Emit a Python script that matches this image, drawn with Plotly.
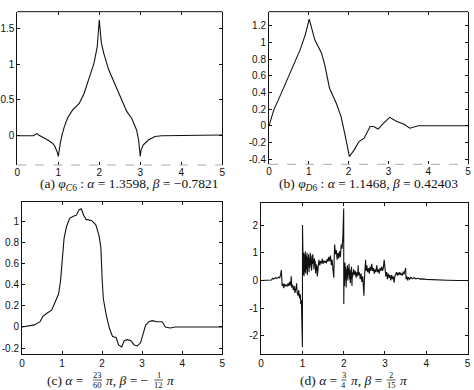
import plotly.graph_objects as go

# ---------------- data ----------------
x_ticks = [0, 1, 2, 3, 4, 5]
x_ticktext = ["0", "1", "2", "3", "4", "5"]

# (a) phi_C6
a_x = [0, 0.2, 0.39, 0.45, 0.48, 0.52, 0.6, 0.71, 0.8, 0.87, 0.92, 0.95, 0.98, 1.0,
       1.02, 1.05, 1.1, 1.15, 1.23, 1.35, 1.51, 1.63, 1.75, 1.87, 1.95, 2.0,
       2.05, 2.11, 2.23, 2.35, 2.47, 2.67, 2.79, 2.91, 2.96, 3.0,
       3.02, 3.07, 3.2, 3.36, 3.52, 3.7, 4.0, 4.5, 5.0]
a_y = [0, 0, 0.0, 0.02, 0.03, 0.01, -0.02, -0.05, -0.08, -0.11, -0.15, -0.19, -0.24, -0.29,
       -0.2, -0.1, 0.03, 0.13, 0.25, 0.36, 0.45, 0.59, 0.8, 1.01, 1.24, 1.62,
       1.3, 1.15, 0.92, 0.76, 0.59, 0.34, 0.245, 0.08, -0.06, -0.29,
       -0.2, -0.13, -0.06, -0.01, 0.0, 0.0, 0.01, 0.01, 0.01]

# (b) phi_D6
b_x = [0, 0.12, 0.29, 0.45, 0.62, 0.78, 0.91, 1.01, 1.15, 1.32, 1.4, 1.52, 1.69, 1.81,
       1.9, 2.02, 2.14, 2.26, 2.39, 2.54, 2.63, 2.74, 2.88, 3.03, 3.21, 3.38, 3.54,
       3.75, 4.0, 5.0]
b_y = [0, 0.19, 0.37, 0.55, 0.75, 0.91, 1.09, 1.28, 1.03, 0.87, 0.73, 0.45, 0.27, 0.11,
       -0.09, -0.37, -0.29, -0.19, -0.15, -0.01, -0.01, -0.04, 0.03, 0.10, 0.05, 0.02, -0.03,
       0.0, 0.0, 0.0]

# (c)
c_x = [0, 0.14, 0.31, 0.45, 0.52, 0.62, 0.74, 0.82, 0.91, 0.96, 1.01, 1.05, 1.11, 1.19,
       1.28, 1.36, 1.42, 1.48, 1.54, 1.6, 1.73, 1.84, 1.92, 1.97, 2.0, 2.03, 2.1, 2.18,
       2.26, 2.35, 2.41, 2.49, 2.55, 2.63, 2.72, 2.8, 2.88, 2.96, 3.02, 3.09, 3.17, 3.25,
       3.37, 3.5, 3.58, 3.7, 3.83, 4.0, 5.0]
c_y = [0, 0.006, 0.02, 0.05, 0.1, 0.13, 0.16, 0.23, 0.31, 0.43, 0.68, 0.84, 0.95, 1.03,
       1.05, 1.06, 1.11, 1.12, 1.06, 1.02, 1.01, 0.97, 0.87, 0.75, 0.46, 0.27, 0.12, -0.01,
       -0.09, -0.10, -0.17, -0.19, -0.13, -0.12, -0.13, -0.17, -0.18, -0.15, -0.07, 0.02, 0.05, 0.06,
       0.05, 0.05, 0.0, -0.01, 0.0, 0.0, 0.0]

# (d)
d_x = [0, 0.1, 0.2, 0.25, 0.28, 0.3, 0.35, 0.38, 0.42, 0.45, 0.47, 0.49, 0.5,
       0.51, 0.53, 0.55, 0.57, 0.59, 0.61, 0.63, 0.65, 0.67, 0.69, 0.71, 0.73, 0.74, 0.76,
       0.78, 0.8, 0.82, 0.84, 0.86, 0.87, 0.89, 0.91, 0.93, 0.95, 0.96, 0.975, 0.985, 0.995, 1.0,
       1.002, 1.01, 1.015, 1.02, 1.03, 1.04, 1.05, 1.06, 1.07, 1.08, 1.09, 1.10, 1.11, 1.12,
       1.13, 1.14, 1.15, 1.16, 1.17, 1.18, 1.19, 1.2, 1.21, 1.22, 1.23, 1.24, 1.25, 1.26,
       1.27, 1.28, 1.29, 1.3, 1.31, 1.32, 1.33, 1.34, 1.35, 1.36,
       1.38, 1.4, 1.42, 1.44, 1.46, 1.48, 1.5, 1.52, 1.54, 1.56, 1.58, 1.6, 1.62, 1.64,
       1.66, 1.68, 1.7, 1.72, 1.74, 1.76, 1.77, 1.78, 1.8, 1.82, 1.84, 1.86, 1.88, 1.9,
       1.92, 1.94, 1.96, 1.98, 2.0,
       2.002, 2.01, 2.02, 2.03, 2.04, 2.05, 2.06, 2.07, 2.08, 2.09, 2.1, 2.11, 2.12, 2.13,
       2.14, 2.15, 2.16, 2.17, 2.18, 2.19, 2.2, 2.21, 2.22, 2.24, 2.26, 2.28, 2.3, 2.32,
       2.34, 2.35, 2.36, 2.38, 2.4, 2.42, 2.44, 2.46, 2.48, 2.49, 2.5,
       2.51, 2.52, 2.53, 2.54, 2.56, 2.58, 2.6, 2.62, 2.64, 2.66, 2.68, 2.7, 2.72, 2.74,
       2.76, 2.78, 2.8, 2.82, 2.84, 2.86, 2.88, 2.9, 2.92, 2.94, 2.96, 2.98, 3.0,
       3.02, 3.04, 3.06, 3.08, 3.1, 3.12, 3.14, 3.16, 3.18, 3.2, 3.22, 3.24, 3.26, 3.28,
       3.3, 3.32, 3.34, 3.36, 3.38, 3.4, 3.42, 3.44, 3.46, 3.48, 3.5,
       3.51, 3.53, 3.55, 3.57, 3.6, 3.63, 3.66, 3.7, 3.75, 3.8, 3.85, 3.9, 4.0, 4.2, 4.5,
       4.8, 5.0]
d_y = [0, 0, 0.01, 0.02, 0.08, 0.05, 0.1, 0.07, 0.12, 0.1, 0.2, 0.38, 0.05,
       -0.2, -0.1, -0.28, -0.12, -0.2, -0.15, -0.22, -0.1, -0.2, -0.05, -0.18, 0.15, -0.25, -0.15,
       -0.35, -0.2, -0.45, -0.3, -0.1, -0.4, -0.55, -0.35, -0.65, -0.5, -0.85, -0.7, -1.2, -1.6, -2.4,
       2.0, 0.3, 1.1, 0.2, 1.0, 0.15, 0.95, 0.3, 1.05, 0.25, 0.9, 0.4, 1.0, 0.2,
       0.85, 0.5, 0.95, 0.3, 0.8, 0.45, 1.0, 0.55, 0.9, 0.35, 0.85, 0.5, 0.95, 0.6,
       0.75, 0.4, 0.8, 0.55, 0.7, 0.25, 0.6, 0.35, 0.55, 0.15,
       0.6, 0.75, 0.55, 0.7, 0.62, 0.78, 0.6, 0.72, 0.65, 0.7, 0.62, 0.78, 0.68, 0.85,
       0.7, 0.9, 0.55, 0.75, 0.4, 0.1, 0.8, 1.3, 0.95, 1.1, 0.75, 1.0, 0.8, 1.05,
       0.85, 1.3, 1.15, 1.6, 2.6,
       -0.85, 0.6, -0.2, 0.65, 0.0, 0.5, -0.25, 0.4, 0.1, 0.55, 0.0, 0.45, 0.2, 0.6,
       0.05, 0.4, -0.1, 0.35, 0.15, 0.5, -0.2, 0.3, 0.15, 0.4, 0.2, 0.35, 0.1, 0.3,
       0.15, 0.55, 0.2, 0.3, 0.05, 0.25, -0.05, 0.15, -0.2, -0.55, 0.0,
       0.5, 0.3, 0.75, 0.35, 0.55, 0.3, 0.45, 0.25, 0.5, 0.35, 0.6, 0.35, 0.45, 0.25,
       0.4, 0.3, 0.55, 0.3, 0.4, 0.25, 0.45, 0.35, 0.5, 0.35, 0.45, 0.75, 0.3,
       0.15, 0.3, 0.05, 0.25, 0.1, 0.2, 0.0, 0.2, 0.05, 0.15, -0.08, 0.15, 0.2, 0.3,
       0.18, 0.28, 0.2, 0.3, 0.2, 0.25, 0.18, 0.32, 0.22, 0.3, 0.45,
       0.05, 0.15, 0.0, 0.12, 0.05, 0.12, 0.06, 0.1, 0.06, 0.08, 0.05, 0.06, 0.04, 0.02, 0.01,
       0.0, 0.0]

a_yticks = [0, 0.5, 1, 1.5]
a_yticktext = ["0", "0.5", "1", "1.5"]
b_yticks = [-0.4, -0.2, 0, 0.2, 0.4, 0.6, 0.8, 1, 1.2]
b_yticktext = ["-0.4", "-0.2", "0", "0.2", "0.4", "0.6", "0.8", "1", "1.2"]
c_yticks = [-0.2, 0, 0.2, 0.4, 0.6, 0.8, 1]
c_yticktext = ["-0.2", "0", "0.2", "0.4", "0.6", "0.8", "1"]
d_yticks = [-2, -1, 0, 1, 2]
d_yticktext = ["-2", "-1", "0", "1", "2"]

# ---------------- layout ----------------
W, H = 474, 390
def fx(p): return p / W
def fy(p): return 1 - p / H

panels = [
    dict(x=a_x, y=a_y, xd=(13.5, 221.5), yd=(11.7, 165.0), yr=(-0.409, 1.732),
         yt=a_yticks, ytt=a_yticktext, dashed_bottom=True),
    dict(x=b_x, y=b_y, xd=(269.0, 471.0), yd=(11.7, 164.3), yr=(-0.463, 1.368),
         yt=b_yticks, ytt=b_yticktext, dashed_bottom=True),
    dict(x=c_x, y=c_y, xd=(18.3, 221.5), yd=(202.3, 354.3), yr=(-0.259, 1.182),
         yt=c_yticks, ytt=c_yticktext, dashed_bottom=False),
    dict(x=d_x, y=d_y, xd=(261.0, 470.5), yd=(203.3, 354.3), yr=(-2.664, 2.787),
         yt=d_yticks, ytt=d_yticktext, dashed_bottom=False),
]

fig = go.Figure()
tickfont = dict(family="Liberation Sans, Arial, sans-serif", size=10, color="#111")
shapes = []
for i, p in enumerate(panels, start=1):
    sx = "" if i == 1 else str(i)
    fig.add_trace(go.Scatter(x=p["x"], y=p["y"], mode="lines",
                             line=dict(color="#111", width=1.1),
                             xaxis="x" + sx, yaxis="y" + sx, showlegend=False,
                             hoverinfo="skip"))
    xa = dict(domain=[fx(p["xd"][0]), fx(p["xd"][1])], range=[0, 5],
              tickvals=x_ticks, ticktext=x_ticktext, ticks="inside", ticklen=3,
              tickcolor="#111", showgrid=False, zeroline=False,
              showline=not p["dashed_bottom"], linecolor="#111", linewidth=1,
              mirror="ticks", tickfont=tickfont, anchor="y" + sx)
    ya = dict(domain=[fy(p["yd"][1]), fy(p["yd"][0])], range=list(p["yr"]),
              tickvals=p["yt"], ticktext=p["ytt"], ticks="inside", ticklen=3,
              tickcolor="#111", showgrid=False, zeroline=False,
              showline=True, linecolor="#111", linewidth=1,
              mirror="ticks", tickfont=tickfont, anchor="x" + sx)
    fig.layout["xaxis" + sx] = xa
    fig.layout["yaxis" + sx] = ya
    if p["dashed_bottom"]:
        shapes.append(dict(type="line", xref="x" + sx + " domain", yref="y" + sx + " domain",
                           x0=0, x1=1, y0=1, y1=1, line=dict(color="#111", width=1)))
        shapes.append(dict(type="line", xref="x" + sx + " domain", yref="y" + sx + " domain",
                           x0=0, x1=1, y0=0, y1=0,
                           line=dict(color="#aaa", width=1, dash="dash")))

cap_font = dict(family="Liberation Serif, DejaVu Serif, serif", size=13.5, color="#111")
frac_font = dict(family="Liberation Serif, DejaVu Serif, serif", size=8.5, color="#111")

def ann(text, x, y, xanchor="left", font=cap_font):
    return dict(text=text, x=fx(x), y=fy(y), xref="paper", yref="paper",
                xanchor=xanchor, yanchor="middle", showarrow=False, font=font)

annotations = [
    ann("(a) <i>φ</i><sub><i>C</i>6</sub> : <i>α</i> = 1.3598, <i>β</i> = −0.7821", 127, 184.5, "center"),
    ann("(b) <i>φ</i><sub><i>D</i>6</sub> : <i>α</i> = 1.1468, <i>β</i> = 0.42403", 370, 184.5, "center"),
    # (c)
    ann("(c) <i>α</i> =", 42, 380.5),
    ann("23", 95, 375, "center", frac_font),
    ann("60", 95, 384.5, "center", frac_font),
    ann("<i>π</i>, <i>β</i> = −", 101, 380.5),
    ann("1", 157, 375, "center", frac_font),
    ann("12", 157, 384.5, "center", frac_font),
    ann("<i>π</i>", 163, 380.5),
    # (d)
    ann("(d) <i>α</i> =", 298, 380.5),
    ann("3", 345, 375, "center", frac_font),
    ann("4", 345, 384.5, "center", frac_font),
    ann("<i>π</i>, <i>β</i> =", 350, 380.5),
    ann("2", 393, 375, "center", frac_font),
    ann("15", 393, 384.5, "center", frac_font),
    ann("<i>π</i>", 400, 380.5),
]
for (cx, w) in [(95, 9), (157, 9), (345, 5), (393, 9)]:
    shapes.append(dict(type="line", xref="paper", yref="paper",
                       x0=fx(cx - w / 2), x1=fx(cx + w / 2), y0=fy(380), y1=fy(380),
                       line=dict(color="#111", width=0.7)))

fig.update_layout(width=W, height=H, margin=dict(l=0, r=0, t=0, b=0),
                  paper_bgcolor="white", plot_bgcolor="white",
                  shapes=shapes, annotations=annotations, showlegend=False)
fig.write_html("out.html", config={"displayModeBar": False},
               post_script="document.body.style.margin='0';document.body.style.overflow='hidden';")
